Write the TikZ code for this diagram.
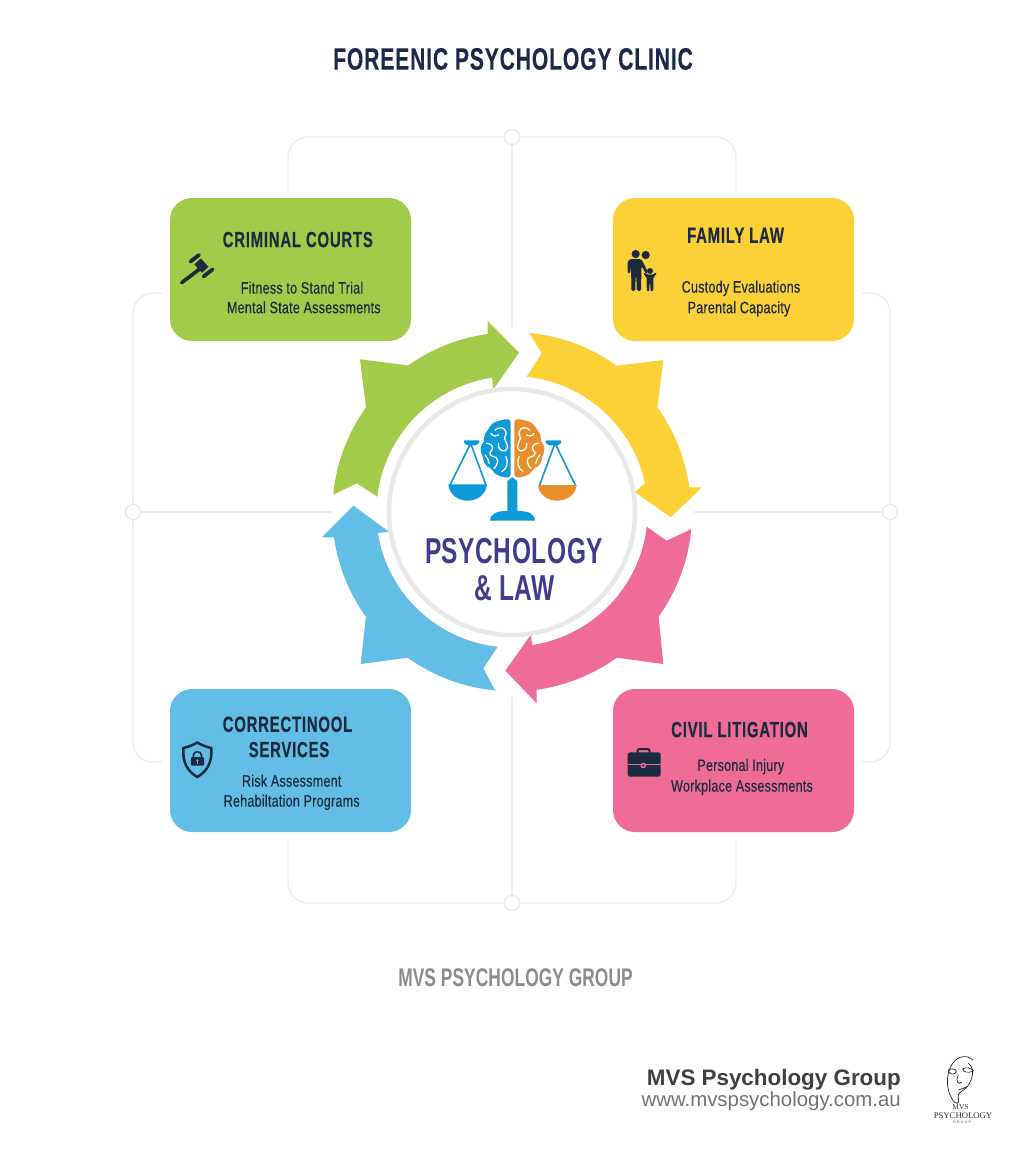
\documentclass[tikz,border=0pt]{standalone}
\usepackage{fontspec}
\setmainfont{Liberation Sans}
\newfontfamily\condreg{Liberation Sans}[FakeStretch=0.76,LetterSpace=1.5,FakeBold=0.2]
\newfontfamily\condbold{Liberation Sans}[FakeStretch=0.68,LetterSpace=3.4,BoldFont={Liberation Sans Bold},BoldFeatures={FakeBold=0.25}]
\newfontfamily\condtitle{Liberation Sans}[FakeStretch=0.68,LetterSpace=2.8,BoldFont={Liberation Sans Bold},BoldFeatures={FakeBold=0.25}]
\newfontfamily\condcentre{Liberation Sans}[FakeStretch=0.68,LetterSpace=1.6,BoldFont={Liberation Sans Bold}]
\newfontfamily\condplain{Liberation Sans}[FakeStretch=0.68,LetterSpace=0.3,BoldFont={Liberation Sans Bold}]
\newfontfamily\logoserif{Liberation Serif}
\definecolor{ink}{HTML}{1B2A3E}
\definecolor{navy}{HTML}{1B2A4A}
\definecolor{cgreen}{HTML}{A2CB4A}
\definecolor{cyellow}{HTML}{FCD037}
\definecolor{cblue}{HTML}{62BEE6}
\definecolor{cpink}{HTML}{EE6C95}
\definecolor{wire}{HTML}{EBEBEB}
\definecolor{ring}{HTML}{E8E8E8}
\definecolor{brainblue}{HTML}{0E9AD7}
\definecolor{brainorange}{HTML}{E88E2B}
\definecolor{purple}{HTML}{3F3B8F}
\tikzset{
  card/.style={fill=#1,draw=none,rounded corners=22pt,minimum width=241pt,minimum height=143pt,inner sep=0pt},
  cardhead/.style={font=\condbold\bfseries\fontsize{22}{22}\selectfont,text=ink,inner sep=0pt,text height=15.7pt,text depth=0pt},
  cardbody/.style={font=\condreg\fontsize{16.5}{16.5}\selectfont,text=ink,inner sep=0pt,text height=11.8pt,text depth=0pt},
  wireline/.style={draw=wire,line width=1.3pt},
  hubdot/.style={circle,draw=wire,fill=white,line width=1.3pt,minimum size=15pt,inner sep=0pt},
  vein/.style={draw=white,line width=1.3pt,line cap=round,line join=round},
}
\begin{document}
\begin{tikzpicture}[x=1pt,y=-1pt]
\useasboundingbox (0,0) rectangle (1024,1154);
\fill[white] (0,0) rectangle (1024,1154);
% connector hubs
\node[hubdot] (dotT) at (512,137) {};
\node[hubdot] (dotB) at (512,903) {};
\node[hubdot] (dotL) at (133,512) {};
\node[hubdot] (dotR) at (890,512) {};
\coordinate (endT) at (512,327);
\coordinate (endB) at (512,697);
\coordinate (endL) at (332,512);
\coordinate (endR) at (694,512);
\coordinate (fTL) at (288,190);
\coordinate (fTR) at (736,190);
\coordinate (fBL) at (288,840);
\coordinate (fBR) at (736,840);
\coordinate (fLT) at (162,293);
\coordinate (fLB) at (162,762);
\coordinate (fRT) at (862,293);
\coordinate (fRB) at (862,762);
\draw[wireline] (dotT) -- (endT);
\draw[wireline] (dotB) -- (endB);
\draw[wireline] (dotL) -- (endL);
\draw[wireline] (dotR) -- (endR);
\draw[wireline,rounded corners=20pt] (fTL) -- (288,137) -- (736,137) -- (fTR);
\draw[wireline,rounded corners=20pt] (fBL) -- (288,903) -- (736,903) -- (fBR);
\draw[wireline,rounded corners=20pt] (fLT) -- (133,293) -- (133,762) -- (fLB);
\draw[wireline,rounded corners=20pt] (fRT) -- (890,293) -- (890,762) -- (fRB);
\node[hubdot] (dotT2) at (dotT) {};
\node[hubdot] (dotB2) at (dotB) {};
\node[hubdot] (dotL2) at (dotL) {};
\node[hubdot] (dotR2) at (dotR) {};
% title
\node[font=\condtitle\bfseries\fontsize{31}{31}\selectfont,text=navy,inner sep=0pt] (title) at (513,59) {FOREENIC PSYCHOLOGY CLINIC};
% cards
\node[card=cgreen] (crim) at (290.5,269.5) {};
\node[card=cyellow] (fam) at (733.5,269.5) {};
\node[card=cblue] (corr) at (290.5,760.5) {};
\node[card=cpink] (civ) at (733.5,760.5) {};
% card text
\node[cardhead] (h1) at (297.8,239.3) {CRIMINAL COURTS};
\node[cardbody] (b1a) at (302,287.7) {Fitness to Stand Trial};
\node[cardbody] (b1b) at (303.8,307.3) {Mental State Assessments};
\node[cardhead] (h2) at (735.5,235) {FAMILY LAW};
\node[cardbody] (b2a) at (741,286.7) {Custody Evaluations};
\node[cardbody] (b2b) at (739,307.3) {Parental Capacity};
\node[cardhead] (h3) at (287.5,724) {CORRECTINOOL};
\node[cardhead] (h3b) at (289,749.3) {SERVICES};
\node[cardbody] (b3a) at (291.7,780.7) {Risk Assessment};
\node[cardbody] (b3b) at (291.7,800.7) {Rehabiltation Programs};
\node[cardhead] (h4) at (739.5,729.3) {CIVIL LITIGATION};
\node[cardbody] (b4a) at (740.8,765) {Personal Injury};
\node[cardbody] (b4b) at (742,785.7) {Workplace Assessments};
% cycle arrows (relative to centre, y up)
\begin{scope}[shift={(512,512)},x=1pt,y=1pt]
\fill[cgreen] (-179.3,17) -- (-155.3,28.7) -- (-134.7,15.3) arc[start angle=173.5,end angle=98.6,radius=136pt]
  -- (-18.7,122.7) -- (7,159.3) -- (-24.3,191) -- (-24.3,178) arc[start angle=97.8,end angle=125.3,radius=180pt]
  -- (-152,152.7) -- (-146,104.7) arc[start angle=144.4,end angle=174.6,radius=180pt] -- cycle;
\fill[cyellow] (17,179.7) -- (29.7,158.7) -- (14.7,135.3) arc[start angle=83.8,end angle=12.3,radius=136pt]
  -- (123,19.7) -- (158.7,-5.3) -- (190,24.7) -- (177.3,24.7) arc[start angle=7.9,end angle=35.6,radius=180pt]
  -- (151.3,152) -- (104.7,146.3) arc[start angle=54.4,end angle=84.6,radius=180pt] -- cycle;
\fill[cpink] (134.7,-14.7) -- (154.7,-28.7) -- (179.3,-17) arc[start angle=-5.4,end angle=-35.5,radius=180pt]
  -- (151.3,-152) -- (104.7,-145.7) arc[start angle=-54.3,end angle=-82,radius=180pt]
  -- (24.7,-191.3) -- (-6.7,-158.7) -- (18.7,-123) -- (20.3,-133) arc[start angle=-81.3,end angle=-6.2,radius=136pt] -- cycle;
\fill[cblue] (-16.3,-179.7) -- (-28.7,-156.3) -- (-14.3,-134.7) arc[start angle=263.9,end angle=189.1,radius=136pt]
  -- (-123,-19.7) -- (-158.7,6.3) -- (-190.3,-25.3) -- (-178,-25.3) arc[start angle=188.1,end angle=215.6,radius=180pt]
  -- (-151.3,-152) -- (-104.3,-145.7) arc[start angle=234.4,end angle=264.8,radius=180pt] -- cycle;
\end{scope}
% centre disc
\node[circle,draw=ring,fill=white,line width=4.5pt,minimum size=246pt,inner sep=0pt] (hub) at (512,512) {};
\node[font=\condcentre\bfseries\fontsize{36}{36}\selectfont,text=purple,inner sep=0pt] (psy) at (514,551) {PSYCHOLOGY};
\node[font=\condcentre\bfseries\fontsize{36}{36}\selectfont,text=purple,inner sep=0pt] (law) at (514.5,588.5) {\& LAW};
% brain and scales, in 3x zoom units
\begin{scope}[shift={(400,400)},scale=0.33333]
  \foreach \m/\c in {1/brainblue,-1/brainorange}{
  \begin{scope}[shift={(337.5,0)},xscale=\m]
    \fill[\c,rounded corners=2pt] (-5.5,65) .. controls (-8,60) and (-22,55) .. (-35,63)
      .. controls (-55,62) and (-70,80) .. (-73,92)
      .. controls (-85,100) and (-85,118) .. (-82,122)
      .. controls (-97,135) and (-98,155) .. (-88,170)
      .. controls (-88,190) and (-75,202) .. (-62,205)
      .. controls (-55,225) and (-25,235) .. (-5.5,230) -- cycle;
    \draw[vein] (-52,90) .. controls (-40,80) and (-25,80) .. (-20,95) .. controls (-15,105) and (-30,110) .. (-20,125) .. controls (-15,135) and (-12,145) .. (-22,152) .. controls (-35,155) and (-45,145) .. (-42,130);
    \draw[vein] (-78,130) .. controls (-65,130) and (-55,140) .. (-62,150) .. controls (-75,160) and (-65,170) .. (-50,172) .. controls (-40,180) and (-45,195) .. (-55,205);
    \draw[vein] (-20,170) .. controls (-12,185) and (-15,205) .. (-32,215);
    \draw[vein] (-65,100) .. controls (-58,110) and (-48,110) .. (-42,105);
    \draw[vein] (-82,165) .. controls (-75,175) and (-72,180) .. (-70,190);
  \end{scope}}
  % stand
  \fill[brainblue] (322,333) -- (322,243) -- (337,232) -- (352,243) -- (352,333) .. controls (385,333) and (403,340) .. (405,362) -- (270,362) .. controls (272,340) and (290,333) .. (322,333) -- cycle;
  % left scale
  \draw[brainblue,line width=1.6pt,line join=round] (150,255) -- (212,130) -- (258,255);
  \fill[brainblue,rounded corners=2pt] (189,121) -- (241,121) -- (232,136) -- (197,136) -- cycle;
  \fill[brainblue] (145,253) -- (261,253) .. controls (258,285) and (230,302) .. (203,302) .. controls (175,302) and (148,285) .. (145,253) -- cycle;
  % right scale
  \draw[brainblue,line width=1.6pt,line join=round] (419,255) -- (465,130) -- (526,255);
  \fill[brainblue,rounded corners=2pt] (434,121) -- (486,121) -- (479,136) -- (442,136) -- cycle;
  \fill[brainorange] (414,255) -- (530,255) .. controls (527,285) and (500,302) .. (472,302) .. controls (444,302) and (417,285) .. (414,255) -- cycle;
\end{scope}
% gavel
\draw[ink,line width=3.6pt,line cap=round] (181.7,282.7) -- (199,269.5);
\draw[ink,line width=8.8pt] (197.6,261.4) -- (205.2,269.8);
\draw[ink,line width=3.8pt,line cap=round] (190.5,261.5) -- (199,255);
\draw[ink,line width=3.8pt,line cap=round] (203.5,276.5) -- (212.5,269.5);
% family
\fill[ink] (635.7,254) circle (4.1pt);
\fill[ink] (645.7,255) circle (4.1pt);
\fill[ink] (650,271) circle (3pt);
\fill[ink,rounded corners=1.5pt] (627.5,273.5) -- (627.5,262) -- (630,259) -- (641,259) -- (643,262) -- (648,272.5) -- (646.5,274.5) -- (641.5,266) -- (641,291) -- (636.8,291) -- (636.3,276) -- (635.6,276) -- (635.3,291) -- (631.5,291) -- (631,265) -- (630.3,273.5) -- cycle;
\fill[ink,rounded corners=0.8pt] (644.5,272.5) -- (647,274.5) -- (653,274.5) -- (655.5,272.5) -- (656.8,273.5) -- (653.5,277.5) -- (653.2,291) -- (650.6,291) -- (650.2,283) -- (649.6,283) -- (649.3,291) -- (646.8,291) -- (646.6,277.5) -- (643.5,274) -- cycle;
% shield and lock
\draw[ink,line width=2.5pt,line join=round] (197.3,742.5) .. controls (192,745.5) and (188,747) .. (183.3,748) .. controls (182.5,762) and (187,771) .. (197.3,777) .. controls (207.5,771) and (212.2,762) .. (211.4,748) .. controls (206.5,747) and (202.5,745.5) .. (197.3,742.5) -- cycle;
\fill[ink,rounded corners=1pt] (190.8,757.2) rectangle (204,765.5);
\draw[ink,line width=1.6pt] (193.3,757.5) -- (193.3,755.5) .. controls (193.3,750.5) and (201.5,750.5) .. (201.5,755.5) -- (201.5,757.5);
\fill[cblue] (197.4,760.5) circle (1.3pt);
\fill[cblue] (196.8,760.5) rectangle (198,763.5);
% briefcase
\draw[ink,line width=2pt,rounded corners=2pt] (637.5,753) -- (637.5,749) -- (649.5,749) -- (649.5,753);
\fill[ink,rounded corners=2.5pt] (627.7,752.3) rectangle (660.7,776.7);
\draw[cpink,line width=0.9pt] (627.7,764.8) -- (660.7,764.8);
\fill[cpink] (643.3,765.5) circle (2.8pt);
\fill[ink] (643.3,765.5) circle (1.2pt);
% footer
\node[font=\condplain\bfseries\fontsize{25.5}{25.5}\selectfont,text=gray!90,inner sep=0pt] (group) at (515.5,978) {MVS PSYCHOLOGY GROUP};
\node[anchor=east,font=\bfseries\fontsize{22.4}{22.4}\selectfont,text=black!75,inner sep=0pt] (mvs) at (901,1080) {MVS Psychology Group};
\node[anchor=east,font=\fontsize{20.4}{20.4}\selectfont,text=black!55,inner sep=0pt] (www) at (901,1101.5) {www.mvspsychology.com.au};
% logo
\begin{scope}[shift={(630,1045)},scale=0.33333]
  \draw[black!85,line width=0.7pt,line cap=round,line join=round]
    (1028,45) .. controls (1015,30) and (985,30) .. (968,55) .. controls (950,80) and (945,125) .. (965,160) .. controls (975,180) and (990,180) .. (985,160) .. controls (980,140) and (1000,140) .. (1012,125) .. controls (1030,100) and (1035,70) .. (1015,55);
  \draw[black!85,line width=0.7pt,line cap=round] (955,75) .. controls (975,65) and (985,80) .. (975,85) .. controls (965,90) and (955,85) .. (955,75);
  \draw[black!85,line width=0.7pt,line cap=round] (998,72) .. controls (1005,65) and (1025,68) .. (1030,78) .. controls (1015,85) and (1000,82) .. (998,72);
  \draw[black!85,line width=0.7pt,line cap=round] (985,90) .. controls (975,110) and (985,120) .. (995,112) (985,135) .. controls (998,130) and (1005,130) .. (1010,125);
\end{scope}
\node[font=\logoserif\fontsize{7.5}{7.5}\selectfont,text=black!80,inner sep=0pt] (lg1) at (960.5,1107.5) {MVS};
\node[font=\logoserif\fontsize{8.7}{8.7}\selectfont,text=black!80,inner sep=0pt] (lg2) at (963,1115.5) {PSYCHOLOGY};
\node[font=\fontsize{3.6}{3.6}\selectfont,text=black!70,inner sep=0pt] (lg3) at (962,1122.5) {G\,\,R\,\,O\,\,U\,\,P};
\end{tikzpicture}
\end{document}
